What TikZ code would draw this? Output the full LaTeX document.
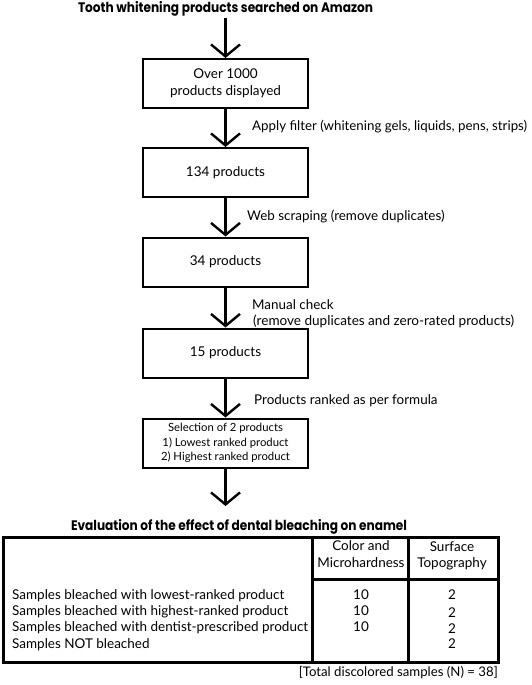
\documentclass[tikz,border=0pt]{standalone}
\usepackage{fontspec}
\setmainfont{Lato}
\newfontfamily\titlefont{Poppins}[FakeStretch=0.88]
\usetikzlibrary{arrows.meta,positioning}
\newlength\mymw
\newcommand\calcsize[3]{\settowidth\mymw{\normalfont\fontsize{10}{12}\selectfont #3}\pgfmathsetmacro#1{10*#2/\mymw}}
\AtBeginDocument{%
\calcsize\szA{275}{Apply filter (whitening gels, liquids, pens, strips)}%
\calcsize\szB{261}{(remove duplicates and zero-rated products)}%
\pgfmathsetmacro\szL{(\szA+\szB)/2}%
\calcsize\szT{295}{\titlefont\bfseries Tooth whitening products searched on Amazon}%
\calcsize\szE{336}{\titlefont\bfseries Evaluation of the effect of dental bleaching on enamel}%
\calcsize\szR{296}{Samples bleached with dentist-prescribed product}%
\calcsize\szF{199}{[Total discolored samples (N) = 38]}%
}
\begin{document}
\begin{tikzpicture}[x=1pt,y=-1pt,
  stepbox/.style={draw,line width=2pt,minimum width=165pt,minimum height=49pt,align=center,inner sep=2pt,font=\fontsize{13.5}{17}\selectfont},
  flow/.style={line width=2.4pt,-{Straight Barb[length=12pt,width=29pt,line width=2.4pt]}},
  lbl/.style={anchor=west,inner sep=0pt,font=\fontsize{\szL}{16}\selectfont},
  ttl/.style={inner sep=0pt,font=\titlefont\bfseries\fontsize{\szT}{15}\selectfont},
  tbl/.style={inner sep=0pt,font=\fontsize{\szR}{16.5}\selectfont},
  tline/.style={line width=3pt}]
\useasboundingbox (0,0) rectangle (531,685);
\node[ttl] (title) at (225.5,9) {Tooth whitening products searched on Amazon};
\node[stepbox] (b1) at (225.5,83.5) {Over 1000\\products displayed};
\node[stepbox] (b2) at (225.5,172.5) {134 products};
\node[stepbox] (b3) at (225.5,262) {34 products};
\node[stepbox] (b4) at (225.5,353) {15 products};
\node[stepbox,font=\fontsize{11.3}{14.5}\selectfont] (b5) at (225.5,443) {Selection of 2 products\\1) Lowest ranked product\\2) Highest ranked product};
\coordinate (end) at (225.5,506);
\draw[flow] (225.5,18) -- (b1.north);
\draw[flow] (b1) -- (b2);
\draw[flow] (b2) -- (b3);
\draw[flow] (b3) -- (b4);
\draw[flow] (b4) -- (b5);
\draw[flow] (b5) -- (end);
\node[lbl,font=\fontsize{\szA}{16}\selectfont] (l1) at (252,127) {Apply filter (whitening gels, liquids, pens, strips)};
\node[lbl] (l2) at (247,217) {Web scraping (remove duplicates)};
\node[lbl] (l3) at (252,305) {Manual check};
\node[lbl,font=\fontsize{\szB}{16}\selectfont] (l3b) at (253,321) {(remove duplicates and zero-rated products)};
\node[lbl] (l4) at (254,401) {Products ranked as per formula};
% table
\node[ttl,font=\titlefont\bfseries\fontsize{\szE}{15}\selectfont] (ttitle) at (239,527) {Evaluation of the effect of dental bleaching on enamel};
\draw[tline] (3,537) rectangle (498,662);
\draw[tline] (312,537) -- (312,662);
\draw[tline] (408,537) -- (408,662);
\draw[tline] (312,579) -- (498,579);
\node[tbl,align=center] (h1) at (361,554) {Color and\\Microhardness};
\node[tbl,align=center] (h2) at (452,556) {Surface\\Topography};
\node[tbl,anchor=west] (r1) at (12,596) {Samples bleached with lowest-ranked product};
\node[tbl,anchor=west] (r2) at (12,612) {Samples bleached with highest-ranked product};
\node[tbl,anchor=west] (r3) at (12,628) {Samples bleached with dentist-prescribed product};
\node[tbl,anchor=west] (r4) at (12,645) {Samples NOT bleached};
\node[tbl] (c11) at (361,595) {10};
\node[tbl] (c21) at (361,611) {10};
\node[tbl] (c31) at (361,627) {10};
\node[tbl] (c12) at (452,595) {2};
\node[tbl] (c22) at (452,613) {2};
\node[tbl] (c32) at (452,629) {2};
\node[tbl] (c42) at (452,644) {2};
\node[tbl,anchor=east,font=\fontsize{\szF}{16}\selectfont] (foot) at (498,673) {[Total discolored samples (N) = 38]};
\end{tikzpicture}
\end{document}
